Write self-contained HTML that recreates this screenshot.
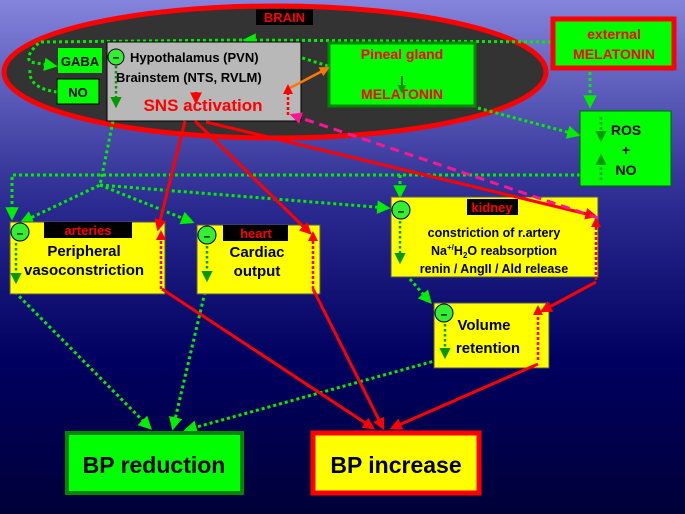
<!DOCTYPE html>
<html><head><meta charset="utf-8"><style>
html,body{margin:0;padding:0;width:685px;height:514px;overflow:hidden}
svg{display:block}
text{font-family:"Liberation Sans",Arial,sans-serif;font-weight:bold}
</style></head><body>
<svg width="685" height="514" viewBox="0 0 685 514" xmlns="http://www.w3.org/2000/svg">
<defs>
<linearGradient id="bg" x1="0" y1="0" x2="0" y2="1">
<stop offset="0" stop-color="#8484dc"/><stop offset="0.4" stop-color="#2a2a90"/><stop offset="0.7" stop-color="#000060"/><stop offset="1" stop-color="#000038"/>
</linearGradient>
<marker id="ar" viewBox="0 0 10 10" refX="8" refY="5" markerWidth="4" markerHeight="4" orient="auto"><path d="M0,0L10,5L0,10z" fill="#ff0000"/></marker>
<marker id="ag" viewBox="0 0 10 10" refX="8" refY="5" markerWidth="4.5" markerHeight="4.5" orient="auto"><path d="M0,0L10,5L0,10z" fill="#00ee00"/></marker>
<marker id="adg" viewBox="0 0 10 10" refX="8" refY="5" markerWidth="4.5" markerHeight="4.5" orient="auto"><path d="M0,0L10,5L0,10z" fill="#009900"/></marker>
<marker id="ap" viewBox="0 0 10 10" refX="8" refY="5" markerWidth="4" markerHeight="4" orient="auto"><path d="M0,0L10,5L0,10z" fill="#ff1493"/></marker>
<marker id="ao" viewBox="0 0 10 10" refX="8" refY="5" markerWidth="4" markerHeight="4" orient="auto"><path d="M0,0L10,5L0,10z" fill="#ff7700"/></marker>
</defs>
<rect width="685" height="514" fill="url(#bg)"/>
<ellipse cx="275" cy="72" rx="271" ry="66" fill="#333333" stroke="#ff0000" stroke-width="5"/>
<rect x="256" y="9" width="57" height="16" fill="#000"/>
<text x="284.5" y="22" font-size="13" fill="#ff0000" text-anchor="middle">BRAIN</text>

<!-- green dotted lines in brain -->
<g fill="none" stroke="#00ee00" stroke-width="3" stroke-dasharray="3,3">
<path d="M551,42 L245,40" marker-end="url(#ag)"/>
<path d="M328,66 L245,40 L40,42 Q25,55 30,62 L55,66" marker-end="url(#ag)"/>
<path d="M57,92 Q28,88 30,70"/>
<path d="M590,72 L590,106" marker-end="url(#ag)"/>
<path d="M478,108 L578,135" marker-end="url(#ag)"/>
<path d="M580,175 L12,175 L12,218" marker-end="url(#ag)"/>
<path d="M400,175 L400,196" marker-end="url(#ag)"/>
<path d="M113,121 L100,185 L22,222" marker-end="url(#ag)"/>
<path d="M100,185 L192,222" marker-end="url(#ag)"/>
<path d="M100,185 L388,208" marker-end="url(#ag)"/>
<path d="M15,292 L150,428" marker-end="url(#ag)"/>
<path d="M205,292 L173,428" marker-end="url(#ag)"/>
<path d="M438,360 L186,430" marker-end="url(#ag)"/>
<path d="M402,270 L430,302" marker-end="url(#ag)"/>
</g>

<!-- boxes -->
<rect x="58" y="48" width="44" height="25" fill="#00ff00"/>
<text x="80" y="66" font-size="13" fill="#000" text-anchor="middle">GABA</text>
<rect x="57" y="79" width="42" height="25" fill="#00ff00" stroke="#000" stroke-width="1"/>
<text x="78" y="97" font-size="13" fill="#000" text-anchor="middle">NO</text>

<rect x="107" y="42" width="194" height="79" fill="#b8b8b8" stroke="#000" stroke-width="1"/>
<text x="130" y="62" font-size="13" fill="#000">Hypothalamus (PVN)</text>
<text x="116" y="82" font-size="13" fill="#000">Brainstem  (NTS, RVLM)</text>
<text x="203" y="111" font-size="17" fill="#ff0000" text-anchor="middle">SNS activation</text>

<rect x="329" y="43" width="146" height="63" fill="#00ff00" stroke="#008800" stroke-width="3"/>
<text x="402" y="59" font-size="14" fill="#ff0000" text-anchor="middle">Pineal gland</text>
<text x="402" y="99" font-size="14" fill="#ff0000" text-anchor="middle">MELATONIN</text>

<rect x="553" y="19" width="121" height="49" fill="#00ff00" stroke="#ff0000" stroke-width="5"/>
<text x="614" y="39" font-size="14" fill="#ff0000" text-anchor="middle">external</text>
<text x="614" y="59" font-size="14" fill="#ff0000" text-anchor="middle">MELATONIN</text>

<rect x="580" y="111" width="91" height="75" fill="#00ff00" stroke="#006600" stroke-width="1"/>
<text x="626" y="135" font-size="14" fill="#000" text-anchor="middle">ROS</text>
<text x="626" y="155" font-size="14" fill="#000" text-anchor="middle">+</text>
<text x="626" y="175" font-size="14" fill="#000" text-anchor="middle">NO</text>

<rect x="10" y="222" width="155" height="72" fill="#ffff00" stroke="#555" stroke-width="1"/>
<rect x="44" y="222" width="88" height="16" fill="#000"/>
<text x="88" y="235" font-size="13" fill="#ff0000" text-anchor="middle">arteries</text>
<text x="84" y="256" font-size="15" fill="#000" text-anchor="middle">Peripheral</text>
<text x="84" y="275" font-size="15" fill="#000" text-anchor="middle">vasoconstriction</text>

<rect x="197" y="225" width="123" height="69" fill="#ffff00" stroke="#555" stroke-width="1"/>
<rect x="223" y="225" width="65" height="16" fill="#000"/>
<text x="256" y="238" font-size="13" fill="#ff0000" text-anchor="middle">heart</text>
<text x="257" y="257" font-size="15" fill="#000" text-anchor="middle">Cardiac</text>
<text x="257" y="276" font-size="15" fill="#000" text-anchor="middle">output</text>

<rect x="391" y="197" width="207" height="80" fill="#ffff00" stroke="#555" stroke-width="1"/>
<rect x="467" y="199" width="51" height="16" fill="#000"/>
<text x="492" y="212" font-size="13" fill="#ff0000" text-anchor="middle">kidney</text>
<text x="494" y="237" font-size="12.5" fill="#000" text-anchor="middle">constriction of r.artery</text>
<text x="494" y="255" font-size="12.5" fill="#000" text-anchor="middle">Na<tspan font-size="8" dy="-5">+/</tspan><tspan dy="5">H</tspan><tspan font-size="8" dy="3">2</tspan><tspan dy="-3">O reabsorption</tspan></text>
<text x="494" y="273" font-size="12.5" fill="#000" text-anchor="middle">renin / AngII / Ald release</text>

<rect x="434" y="303" width="115" height="65" fill="#ffff00" stroke="#555" stroke-width="1"/>
<text x="484" y="330" font-size="15" fill="#000" text-anchor="middle">Volume</text>
<text x="488" y="353" font-size="15" fill="#000" text-anchor="middle">retention</text>

<rect x="67" y="433" width="175" height="60" fill="#00ff00" stroke="#008800" stroke-width="4"/>
<text x="154" y="473" font-size="23" fill="#000" text-anchor="middle">BP reduction</text>
<rect x="313" y="433" width="166" height="60" fill="#ffff00" stroke="#ff0000" stroke-width="5"/>
<text x="396" y="473" font-size="23" fill="#000" text-anchor="middle">BP increase</text>

<!-- minus circles -->
<g fill="#33ee33" stroke="#000" stroke-width="1">
<circle cx="116" cy="57" r="8"/><circle cx="20" cy="232" r="9"/><circle cx="207" cy="235" r="9"/>
<circle cx="401" cy="210" r="9"/><circle cx="444" cy="313" r="9"/>
</g>
<g font-size="12" fill="#000" text-anchor="middle">
<text x="116" y="61">–</text><text x="20" y="237">–</text><text x="207" y="240">–</text><text x="401" y="215">–</text><text x="444" y="318">–</text>
</g>

<!-- dark green dotted inner -->
<g fill="none" stroke="#009900" stroke-width="2.5" stroke-dasharray="2.5,2.5">
<path d="M116,66 L116,106" marker-end="url(#adg)"/>
<path d="M16,243 L16,282" marker-end="url(#adg)"/>
<path d="M207,246 L207,280" marker-end="url(#adg)"/>
<path d="M400,221 L400,262" marker-end="url(#adg)"/>
<path d="M445,324 L445,357" marker-end="url(#adg)"/>
<path d="M601,117 L601,140" marker-end="url(#adg)"/>
<path d="M601,180 L601,156" marker-end="url(#adg)"/>
</g>
<path d="M402,76 L402,92" stroke="#006600" stroke-width="2" fill="none" marker-end="url(#adg)"/>

<!-- red solid lines -->
<g fill="none" stroke="#ff0000" stroke-width="3">
<path d="M196,92 L196,102" marker-end="url(#ar)"/>
<path d="M185,121 L158,229" marker-end="url(#ar)"/>
<path d="M195,121 L310,233" marker-end="url(#ar)"/>
<path d="M206,122 L595,216" marker-end="url(#ar)"/>
<path d="M162,289 L373,428" marker-end="url(#ar)"/>
<path d="M313,289 L383,428" marker-end="url(#ar)"/>
<path d="M538,364 L392,428" marker-end="url(#ar)"/>
<path d="M596,282 L542,311" marker-end="url(#ar)"/>
</g>
<g fill="none" stroke="#ff0000" stroke-width="2.5" stroke-dasharray="3,2">
<path d="M161,289 L161,232" marker-end="url(#ar)"/>
<path d="M313,289 L313,233" marker-end="url(#ar)"/>
<path d="M596,280 L596,219" marker-end="url(#ar)"/>
<path d="M538,360 L538,307" marker-end="url(#ar)"/>
<path d="M288,115 L288,86" marker-end="url(#ar)"/>
</g>
<path d="M598,218 L292,115" fill="none" stroke="#ff1493" stroke-width="3" stroke-dasharray="9,6" marker-end="url(#ap)"/>
<path d="M290,88 L328,68" fill="none" stroke="#ff7700" stroke-width="2.5" marker-end="url(#ao)"/>
</svg>
</body></html>
